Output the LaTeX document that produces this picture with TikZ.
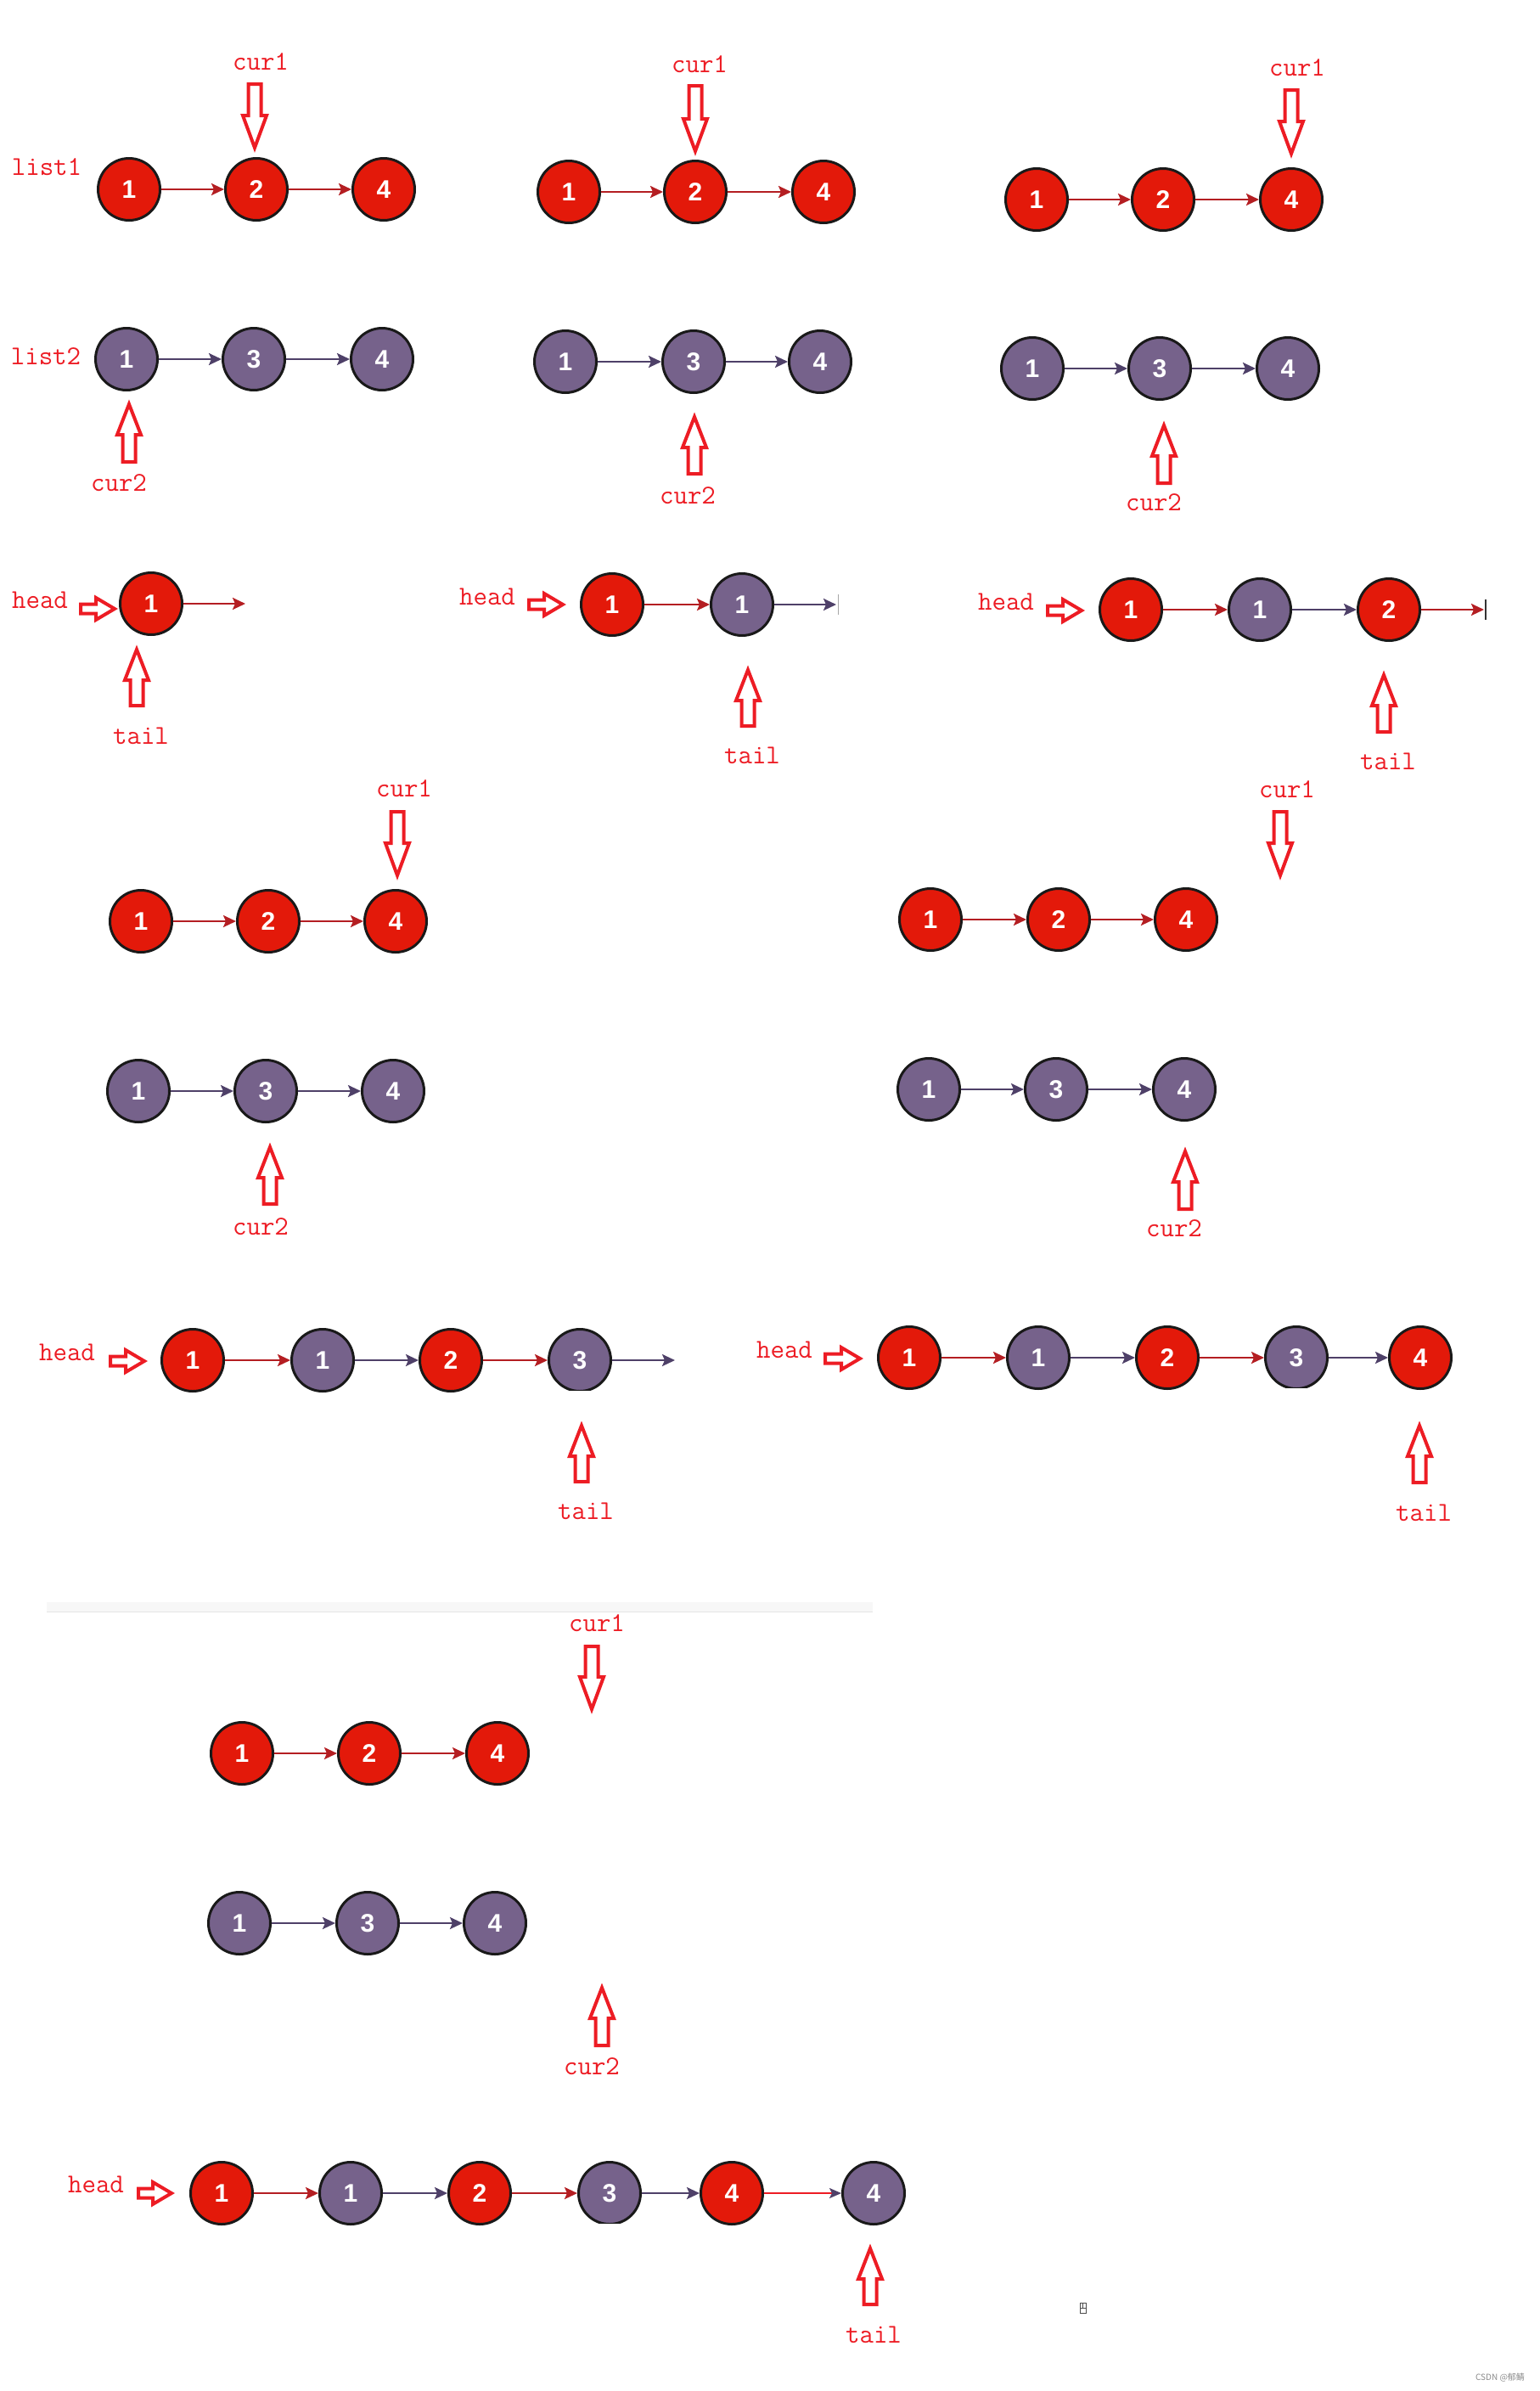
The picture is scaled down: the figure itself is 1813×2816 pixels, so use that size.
\documentclass[tikz,border=0pt]{standalone}
\usepackage{fontspec}
\newfontfamily\numfont{Liberation Sans}
\newfontfamily\cjkfont{Noto Sans CJK SC}
\usetikzlibrary{arrows.meta}
\definecolor{nred}{HTML}{E3190A}
\definecolor{npur}{HTML}{76628B}
\definecolor{ered}{HTML}{B41E22}
\definecolor{epur}{HTML}{4E4068}
\definecolor{ared}{HTML}{ED1C24}
\tikzset{
  lnode/.style={circle, draw=black!90, line width=3pt, minimum size=73pt, inner sep=0pt,
    font=\numfont\bfseries\fontsize{30}{32}\selectfont, text=white},
  rn/.style={lnode, fill=nred},
  pn/.style={lnode, fill=npur},
  redge/.style={draw=ered, line width=2.5pt, -{Stealth[length=15pt,width=14pt,inset=3pt]}},
  pedge/.style={draw=epur, line width=2.5pt, -{Stealth[length=15pt,width=14pt,inset=3pt]}},
  bedge/.style={draw=ared, line width=2pt, -{Stealth[length=14pt,width=12pt,inset=3pt,color=epur]}},
  lbl/.style={text=ared, font=\fontsize{32}{36}\selectfont\ttfamily, inner sep=0pt},
  blockarr/.style={draw=ared, line width=4pt, fill=white, line join=miter, miter limit=10},
  frag/.style={draw=black!80, line width=1.5pt},
}
\newcommand\blk[6]{\draw[blockarr,shift={(#1)},rotate=#2] (0,-#5) -- ({#3-#4},-#5) -- ({#3-#4},-#6) -- (#3,0) -- ({#3-#4},#6) -- ({#3-#4},#5) -- (0,#5) -- cycle;}
\newcommand\downarr[3]{\blk{#1,#2}{-90}{#3}{38}{7.5}{14}}
\newcommand\uparr[3]{\blk{#1,#2}{90}{#3}{36}{7.5}{14}}
\newcommand\rightarr[3]{\blk{#1,#2}{0}{#3}{22}{5.5}{13}}
\newcommand\cutbottom[2]{\fill[white] ({#1-42},{#2+35.5}) rectangle ({#1+42},{#2+44});}
\begin{document}
\begin{tikzpicture}[x=1pt,y=-1pt]
\useasboundingbox[fill=white] (0,0) rectangle (1813,2816);

% ---------- Panel A ----------
\node[lbl] (aL1) at (55,197) {list1};
\node[lbl] (aL2) at (54,420) {list2};
\node[lbl] (aC1) at (307,73) {cur1};
\node[lbl] (aC2) at (140,569) {cur2};
\node[rn] (a11) at (152,223) {1};
\node[rn] (a12) at (302,223) {2};
\node[rn] (a14) at (452,223) {4};
\node[pn] (a21) at (149,423) {1};
\node[pn] (a23) at (299,423) {3};
\node[pn] (a24) at (450,423) {4};
\draw[redge] (a11) -- (a12); \draw[redge] (a12) -- (a14);
\draw[pedge] (a21) -- (a23); \draw[pedge] (a23) -- (a24);
\downarr{300}{99}{75}
\uparr{152}{544}{68}

% ---------- Panel B ----------
\node[lbl] (bC1) at (824,76) {cur1};
\node[lbl] (bC2) at (810,584) {cur2};
\node[rn] (b11) at (670,226) {1};
\node[rn] (b12) at (819,226) {2};
\node[rn] (b14) at (970,226) {4};
\node[pn] (b21) at (666,426) {1};
\node[pn] (b23) at (817,426) {3};
\node[pn] (b24) at (966,426) {4};
\draw[redge] (b11) -- (b12); \draw[redge] (b12) -- (b14);
\draw[pedge] (b21) -- (b23); \draw[pedge] (b23) -- (b24);
\downarr{819}{101}{77}
\uparr{818}{558}{67}

% ---------- Panel C ----------
\node[lbl] (cC1) at (1528,80) {cur1};
\node[lbl] (cC2) at (1359,592) {cur2};
\node[rn] (c11) at (1221,235) {1};
\node[rn] (c12) at (1370,235) {2};
\node[rn] (c14) at (1521,235) {4};
\node[pn] (c21) at (1216,434) {1};
\node[pn] (c23) at (1366,434) {3};
\node[pn] (c24) at (1517,434) {4};
\draw[redge] (c11) -- (c12); \draw[redge] (c12) -- (c14);
\draw[pedge] (c21) -- (c23); \draw[pedge] (c23) -- (c24);
\downarr{1521}{106}{75}
\uparr{1371}{569}{68}

% ---------- Row 3a ----------
\node[lbl] (dH) at (47,707) {head};
\node[lbl] (dT) at (166,867) {tail};
\node[rn] (d1) at (178,711) {1};
\coordinate (dE) at (289,711);
\draw[redge] (d1) -- (dE);
\rightarr{95}{717}{40}
\uparr{161}{831}{66}

% ---------- Row 3b ----------
\node[lbl] (eH) at (574,703) {head};
\node[lbl] (eT) at (886,890) {tail};
\node[rn] (e1) at (721,712) {1};
\node[pn] (e2) at (874,712) {1};
\coordinate (eE) at (985,712);
\draw[redge] (e1) -- (e2);
\draw[pedge] (e2) -- (eE);
\draw[frag, draw=black!35, line width=1pt] (987,700) -- (987,724);
\rightarr{623}{712}{40}
\uparr{881}{855}{66}

% ---------- Row 3c ----------
\node[lbl] (fH) at (1185,709) {head};
\node[lbl] (fT) at (1635,897) {tail};
\node[rn] (f1) at (1332,718) {1};
\node[pn] (f2) at (1484,718) {1};
\node[rn] (f3) at (1636,718) {2};
\coordinate (fE) at (1748,718);
\draw[redge] (f1) -- (f2);
\draw[pedge] (f2) -- (f3);
\draw[redge] (f3) -- (fE);
\draw[frag] (1750,706) -- (1750,730);
\rightarr{1234}{719}{40}
\uparr{1630}{862}{67}

% ---------- Row 4a ----------
\node[lbl] (gC1) at (476,929) {cur1};
\node[lbl] (gC2) at (307,1445) {cur2};
\node[rn] (g11) at (166,1085) {1};
\node[rn] (g12) at (316,1085) {2};
\node[rn] (g14) at (466,1085) {4};
\node[pn] (g21) at (163,1285) {1};
\node[pn] (g23) at (313,1285) {3};
\node[pn] (g24) at (463,1285) {4};
\draw[redge] (g11) -- (g12); \draw[redge] (g12) -- (g14);
\draw[pedge] (g21) -- (g23); \draw[pedge] (g23) -- (g24);
\downarr{468}{956}{75}
\uparr{318}{1418}{67}

% ---------- Row 4b ----------
\node[lbl] (hC1) at (1516,930) {cur1};
\node[lbl] (hC2) at (1383,1447) {cur2};
\node[rn] (h11) at (1096,1083) {1};
\node[rn] (h12) at (1247,1083) {2};
\node[rn] (h14) at (1397,1083) {4};
\node[pn] (h21) at (1094,1283) {1};
\node[pn] (h23) at (1244,1283) {3};
\node[pn] (h24) at (1395,1283) {4};
\draw[redge] (h11) -- (h12); \draw[redge] (h12) -- (h14);
\draw[pedge] (h21) -- (h23); \draw[pedge] (h23) -- (h24);
\downarr{1508}{956}{75}
\uparr{1396}{1424}{68}

% ---------- Row 5a ----------
\node[lbl] (iH) at (79,1593) {head};
\node[lbl] (iT) at (690,1780) {tail};
\node[rn] (i1) at (227,1602) {1};
\node[pn] (i2) at (380,1602) {1};
\node[rn] (i3) at (531,1602) {2};
\node[pn] (i4) at (683,1602) {3};
\cutbottom{683}{1602}
\coordinate (iE) at (795,1602);
\draw[redge] (i1) -- (i2);
\draw[pedge] (i2) -- (i3);
\draw[redge] (i3) -- (i4);
\draw[pedge] (i4) -- (iE);
\rightarr{130}{1603}{40}
\uparr{685}{1745}{66}

% ---------- Row 5b ----------
\node[lbl] (jH) at (924,1590) {head};
\node[lbl] (jT) at (1677,1782) {tail};
\node[rn] (j1) at (1071,1599) {1};
\node[pn] (j2) at (1223,1599) {1};
\node[rn] (j3) at (1375,1599) {2};
\node[pn] (j4) at (1527,1599) {3};
\cutbottom{1527}{1599}
\node[rn] (j5) at (1673,1599) {4};
\draw[redge] (j1) -- (j2);
\draw[pedge] (j2) -- (j3);
\draw[redge] (j3) -- (j4);
\draw[pedge] (j4) -- (j5);
\rightarr{972}{1600}{41}
\uparr{1672}{1746}{67}

% ---------- Row 6 ----------
\fill[black!3] (55,1887) rectangle (1028,1898);
\draw[black!10, line width=1pt] (55,1898) -- (1028,1898);
\node[lbl] (kC1) at (703,1912) {cur1};
\node[lbl] (kC2) at (697,2434) {cur2};
\node[rn] (k11) at (285,2065) {1};
\node[rn] (k12) at (435,2065) {2};
\node[rn] (k14) at (586,2065) {4};
\node[pn] (k21) at (282,2265) {1};
\node[pn] (k23) at (433,2265) {3};
\node[pn] (k24) at (583,2265) {4};
\draw[redge] (k11) -- (k12); \draw[redge] (k12) -- (k14);
\draw[pedge] (k21) -- (k23); \draw[pedge] (k23) -- (k24);
\downarr{697}{1939}{74}
\uparr{709}{2409}{68}

% ---------- Row 7 ----------
\node[lbl] (mH) at (113,2573) {head};
\node[lbl] (mT) at (1029,2750) {tail};
\node[rn] (m1) at (261,2583) {1};
\node[pn] (m2) at (413,2583) {1};
\node[rn] (m3) at (565,2583) {2};
\node[pn] (m4) at (718,2583) {3};
\cutbottom{718}{2583}
\node[rn] (m5) at (862,2583) {4};
\node[pn] (m6) at (1029,2583) {4};
\draw[redge] (m1) -- (m2);
\draw[pedge] (m2) -- (m3);
\draw[redge] (m3) -- (m4);
\draw[pedge] (m4) -- (m5);
\draw[bedge] (m5) -- (m6);
\rightarr{163}{2583}{39}
\uparr{1025}{2714}{66}

% ---------- small marks ----------
\draw[black!70, line width=0.8pt] (1272,2712) rectangle (1279,2724) (1272,2718) -- (1279,2718) (1275.5,2712) -- (1275.5,2718);
\node[text=black!45, font=\cjkfont\fontsize{10}{12}\selectfont, inner sep=0pt] (wm) at (1767,2800) {CSDN @郁鲭};
\end{tikzpicture}
\end{document}
